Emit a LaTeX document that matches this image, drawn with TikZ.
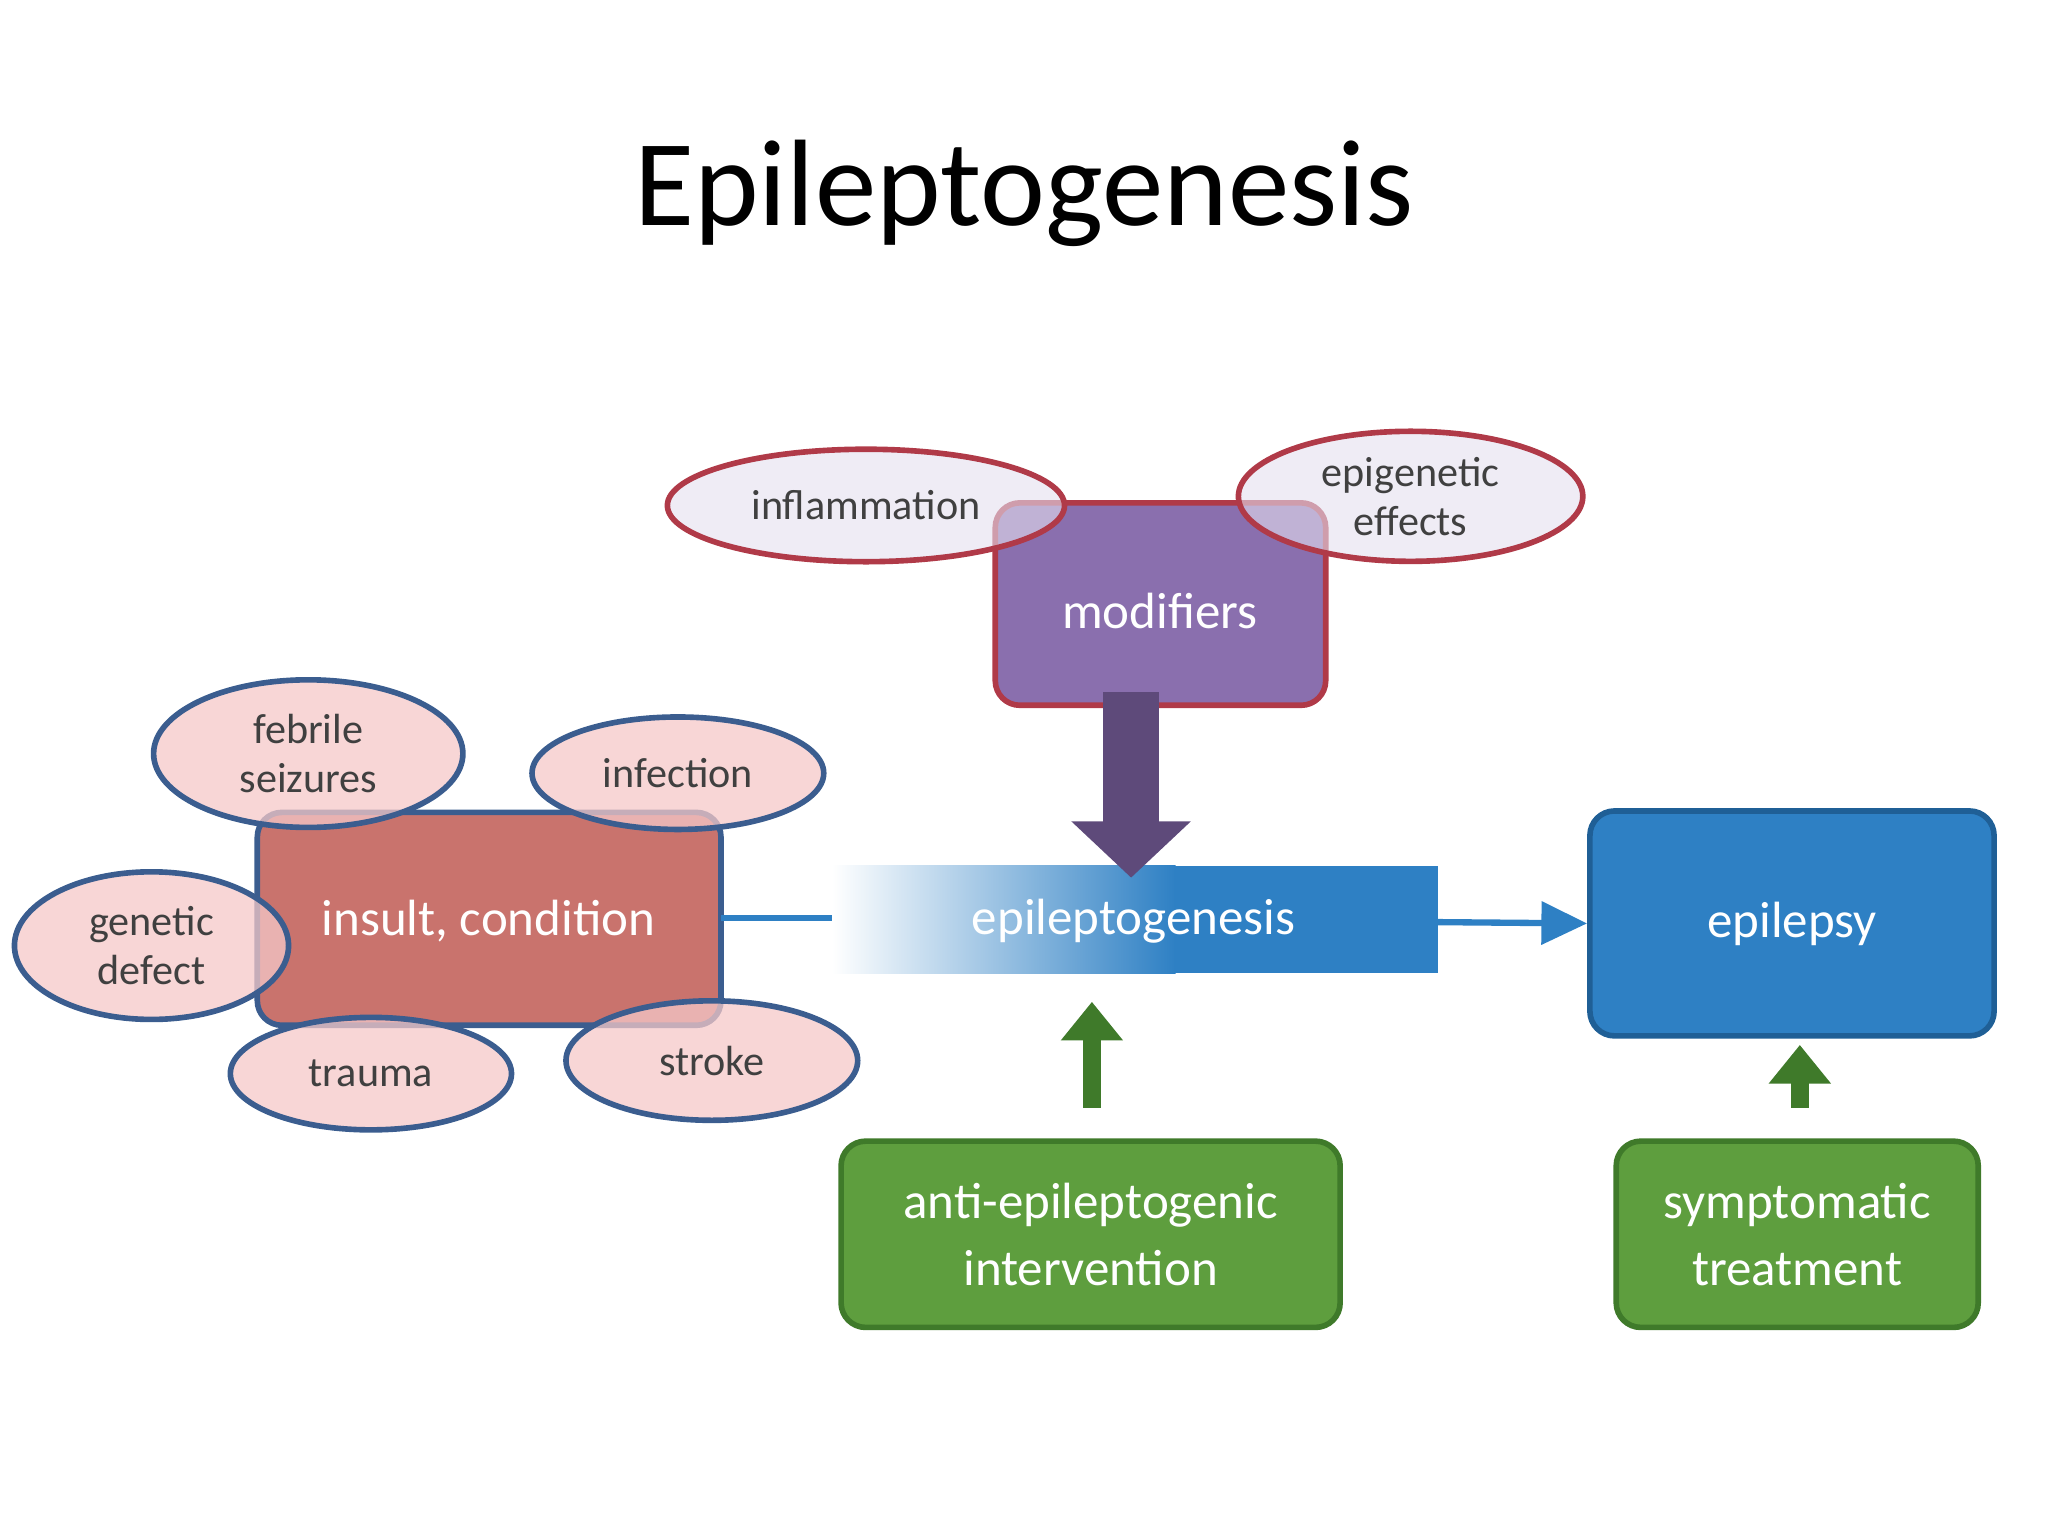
\documentclass[tikz,border=0pt]{standalone}
\usepackage{fontspec}
\setmainfont{Carlito}
\usetikzlibrary{arrows.meta,shapes.geometric}
\definecolor{insred}{HTML}{C9736D}
\definecolor{pinkfill}{HTML}{F5C8C8}
\definecolor{blueline}{HTML}{3B5D8F}
\definecolor{modpurple}{HTML}{8A6FAE}
\definecolor{modred}{HTML}{B03A48}
\definecolor{lavender}{HTML}{E5E0EF}
\definecolor{arrpurple}{HTML}{5E4A7A}
\definecolor{epiblue}{HTML}{2E80C4}
\definecolor{epiborder}{HTML}{1F5F96}
\definecolor{leaf}{HTML}{5E9E3E}
\definecolor{leafdark}{HTML}{3F7A2A}
\definecolor{arrgreen}{HTML}{3F7A2A}
\tikzset{
  cause/.style={ellipse, draw=blueline, line width=1.6pt, fill=pinkfill, fill opacity=.75, text opacity=1, text=black!75, font=\fontsize{12}{14}\selectfont, align=center, inner sep=0pt},
  modif/.style={ellipse, draw=modred, line width=1.6pt, fill=lavender, fill opacity=.6, text opacity=1, text=black!75, font=\fontsize{12}{14}\selectfont, align=center, inner sep=0pt},
  box/.style={rounded corners=7pt, line width=1.6pt, text=white, font=\fontsize{14.5}{19}\selectfont, align=center},
  fatarrow/.style={line width=16pt, arrpurple, -{Triangle[width=33pt,length=16pt]}},
  greenarrow/.style={line width=5.2pt, arrgreen, -{Triangle[width=17pt,length=11pt]}},
  bluearrow/.style={line width=1.8pt, epiblue, -{Triangle[width=12pt,length=13pt]}}
}
\begin{document}
\begin{tikzpicture}[x=0.01306cm, y=-0.01306cm]
\useasboundingbox (0,0) rectangle (1568,1176);
\node[font=\fontsize{35}{40}\selectfont] (title) at (784,148) {Epileptogenesis};
% modifiers
\draw[box, draw=modred, fill=modpurple] (762,385) rectangle (1015,540);
\node[font=\fontsize{14.5}{17}\selectfont, text=white] (modifiers) at (888,468) {modifiers};
\node[modif, minimum width=113pt, minimum height=32pt] (inflam) at (663,387) {inflammation};
\node[modif, minimum width=98pt, minimum height=37pt] (epigen) at (1080,380) {epigenetic\\effects};
% insult
\draw[box, draw=blueline, fill=insred] (197,622) rectangle (552,785);
\node[font=\fontsize{14.5}{17}\selectfont, text=white] (insult) at (374,705) {insult, condition};
\node[cause, minimum width=88pt, minimum height=42pt] (febrile) at (236,577) {febrile\\seizures};
\node[cause, minimum width=83pt, minimum height=32pt] (infect) at (519,592) {infection};
\node[cause, minimum width=78pt, minimum height=42pt] (genetic) at (116,724) {genetic\\defect};
\node[cause, minimum width=80pt, minimum height=32pt] (trauma) at (284,822) {trauma};
\node[cause, minimum width=83pt, minimum height=34pt] (stroke) at (545,812) {stroke};
% epileptogenesis band
\shade[left color=white, right color=epiblue] (637,663) rectangle (900,745);
\fill[epiblue] (899,663) rectangle (1101,745);
\coordinate (bandw) at (637,703);
\coordinate (bande) at (1101,706);
\node[font=\fontsize{14.5}{17}\selectfont, text=white] (epigenesis) at (868,705) {epileptogenesis};
\draw[epiblue, line width=1.8pt] (552,703) -- (bandw);
% epilepsy
\node[box, draw=epiborder, fill=epiblue, minimum width=115pt, minimum height=64pt] (epilepsy) at (1372,707) {epilepsy};
\draw[bluearrow] (bande) -- (epilepsy.west);
% interventions
\node[box, draw=leafdark, fill=leaf, minimum width=142pt, minimum height=53pt] (anti) at (835,945) {anti-epileptogenic\\intervention};
\node[box, draw=leafdark, fill=leaf, minimum width=103pt, minimum height=53pt] (sympt) at (1376,945) {symptomatic\\treatment};
\coordinate (antitip) at (836,767);
\coordinate (symptip) at (1378,800);
\draw[greenarrow] (836,848) -- (antitip);
\draw[greenarrow] (1378,848) -- (symptip);
% modifiers arrow
\coordinate (modbase) at (866,530);
\coordinate (modtip) at (866,672);
\draw[fatarrow] (modbase) -- (modtip);
\end{tikzpicture}
\end{document}
